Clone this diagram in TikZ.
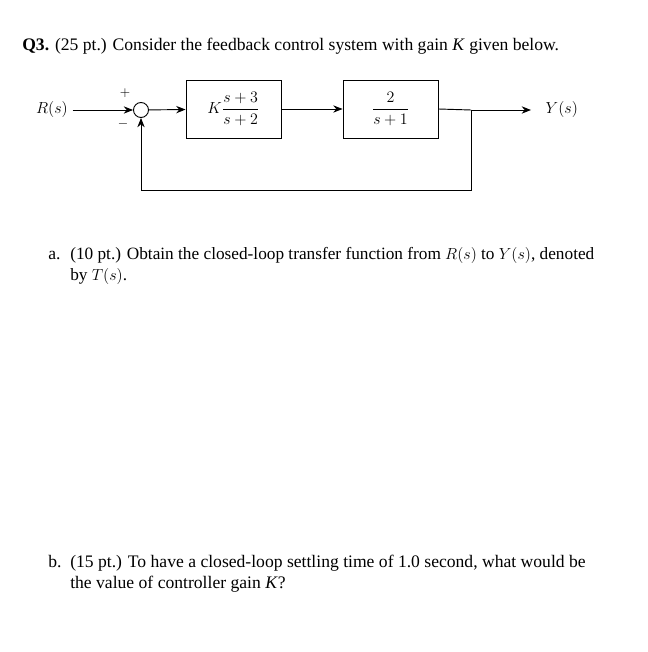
\documentclass[tikz,border=0pt]{standalone}
\usepackage{amsmath}
\usepackage{fontspec}
\setmainfont{Liberation Serif}
\usetikzlibrary{arrows.meta,positioning}
\tikzset{
  block/.style={draw, line width=0.7pt, minimum width=71.25pt, minimum height=43.5pt,
              inner sep=2pt, font=\fontsize{12}{14}\selectfont},
  junction/.style={draw, circle, line width=0.7pt, minimum size=11.25pt, inner sep=0pt},
  signal/.style={font=\fontsize{12}{14}\selectfont},
  sign/.style={font=\fontsize{10}{12}\selectfont, inner sep=0pt},
  flow/.style={-{Stealth[length=7pt,width=5.5pt]}, line width=0.7pt},
  wire/.style={line width=0.7pt},
  prose/.style={font=\fontsize{13.2}{15.75}\selectfont, align=left, inner sep=0pt},
}
\begin{document}
\begin{tikzpicture}[x=0.75pt, y=-0.75pt]
        \useasboundingbox (0,0) rectangle (648,652);
        % question text
        \node[prose, anchor=base west] (title) at (22,51)
          {\textbf{Q3.} (25 pt.) Consider the feedback control system with gain \textit{K} given below.};
        % block diagram
        \node[signal] (r) at (52,110) {$R(s)$};
        \node[junction] (sum) at (141,110) {};
        \node[sign] (plus) at (125,93) {$+$};
        \node[sign] (minus) at (123,124) {$-$};
        \node[block] (ctrl) at (233.5,109) {$K\dfrac{s+3}{s+2}$};
        \node[block] (plant) at (390.5,109) {$\dfrac{2}{s+1}$};
        \coordinate (br) at (471,110);
        \coordinate (out) at (531,110);
        \coordinate (fb) at (471,190);
        \node[signal, anchor=west] (y) at (541,110) {$Y(s)$};
        \draw[flow] (r) -- (sum);
        \draw[flow] (sum) -- (ctrl);
        \draw[flow] (ctrl) -- (plant);
        \draw[wire] (plant.east) -- (br);
        \draw[flow] (br) -- (out);
        \draw[flow] (br) -- (fb) -| (sum.south);
        % parts a and b (base = last line)
        \node[prose, anchor=base west] (la) at (48,259) {a.};
        \node[prose, anchor=base west, font=\fontsize{12.95}{15.75}\selectfont] (qa) at (70,280)
          {(10 pt.) Obtain the closed-loop transfer function from $R(s)$ to $Y(s)$, denoted\\
           by $T(s)$.};
        \node[prose, anchor=base west] (lb) at (48,567) {b.};
        \node[prose, anchor=base west] (qb) at (70,588)
          {(15 pt.) To have a closed-loop settling time of 1.0 second, what would be\\
           the value of controller gain \textit{K}?};
      \end{tikzpicture}
\end{document}
